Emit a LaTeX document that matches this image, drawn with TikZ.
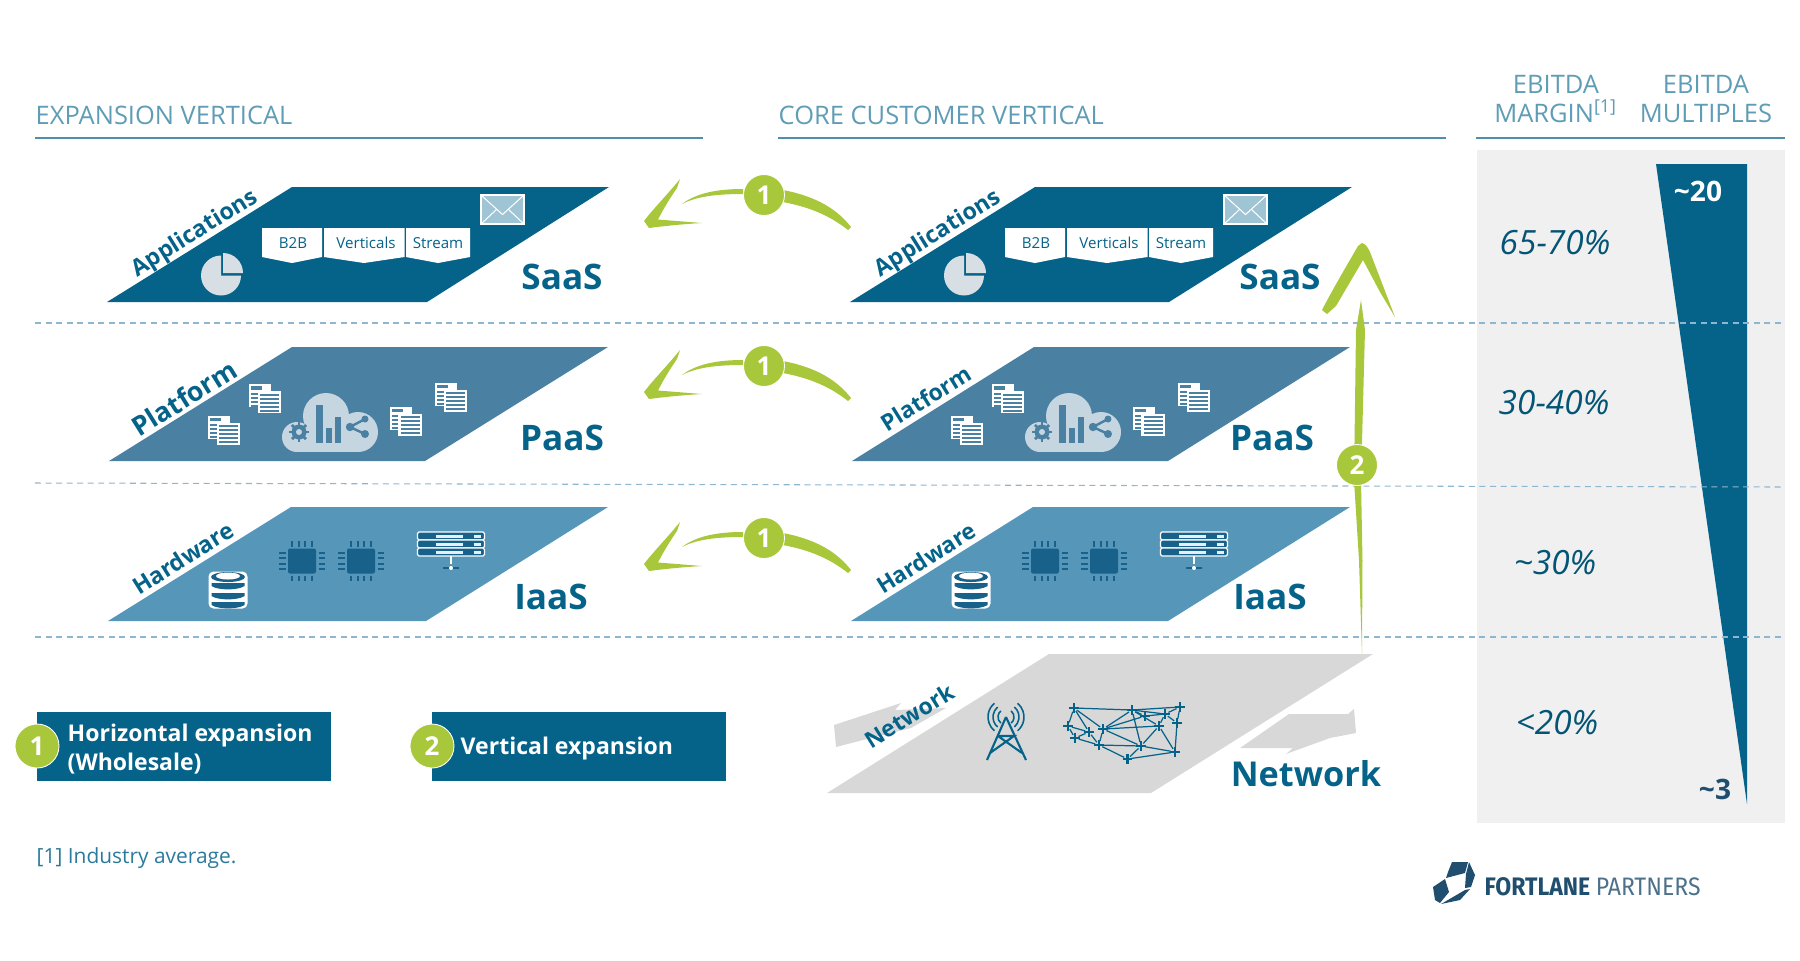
\documentclass[tikz,border=0pt]{standalone}
\usepackage{fontspec}
\setmainfont{Open Sans}
\newfontfamily\logofont[FakeStretch=0.91]{Fira Sans}
\usetikzlibrary{shapes.misc}

\definecolor{saasblue}{HTML}{05638A}
\definecolor{paasblue}{HTML}{4A81A3}
\definecolor{iaasblue}{HTML}{5596B9}
\definecolor{headblue}{HTML}{5F9CB5}
\definecolor{ruleblue}{HTML}{4F8FA8}
\definecolor{dashblue}{HTML}{8FB6CF}
\definecolor{brushgreen}{HTML}{A8C73A}
\definecolor{panelgray}{HTML}{F0F0F1}
\definecolor{netgray}{HTML}{D8D8D8}
\definecolor{chipblue}{HTML}{17618A}
\definecolor{piegray}{HTML}{D8DFE4}
\definecolor{cloudgray}{HTML}{C6D6E1}
\definecolor{logoblue}{HTML}{1F4E6E}

\newcommand{\tildesign}{\char"7E\relax}

\tikzset{
    headtext/.style={text=headblue, font=\fontsize{7.25}{8.5}\selectfont, inner sep=0pt},
    sidetext/.style={text=saasblue, font=\bfseries\fontsize{6.6}{8}\selectfont, inner sep=0pt, rotate=32},
    typetext/.style={text=saasblue, font=\bfseries\fontsize{10}{12}\selectfont, inner sep=0pt},
    tabtext/.style={text=saasblue, font=\fontsize{4.3}{5}\selectfont, inner sep=0pt},
    margintext/.style={text=saasblue!85!black, font=\itshape\fontsize{9.5}{11}\selectfont, inner sep=0pt},
    legendtext/.style={text=white, font=\bfseries\fontsize{6.55}{8.4}\selectfont, inner sep=0pt, anchor=west, align=left},
    legendbox/.style={fill=saasblue, minimum width=2.94cm, minimum height=0.69cm, inner sep=0pt},
    numdot/.style={circle, fill=brushgreen, draw=white, line width=0.25pt, minimum size=0.41cm, inner sep=0pt,
        text=white, font=\bfseries\fontsize{7.4}{8}\selectfont},
    mapdot/.style={cross out, rotate=45, draw=saasblue, line width=0.7pt, minimum size=0.045cm, inner sep=0pt},
    mapline/.style={saasblue, line width=0.35pt},
    rowdash/.style={dashblue, line width=0.3pt, dash pattern=on 1.7pt off 1.3pt},
    pics/brusharrow/.style={code={
        \fill[brushgreen] (-0.84, -0.16) .. controls (-0.97, 0) and (-1.10, 0.13) .. (-1.20, 0.26) -- (-1.15, 0.33)
            .. controls (-1.00, 0.31) and (-0.80, 0.29) .. (-0.62, 0.28) -- (-1.06, 0.245)
            .. controls (-1.00, 0.13) and (-0.94, 0.03) .. (-0.87, -0.07) -- cycle;
        \fill[brushgreen] (-0.21, -0.06) .. controls (-0.40, -0.06) and (-0.65, -0.04) .. (-0.82, 0.09)
            .. controls (-0.65, 0) and (-0.40, -0.01) .. (-0.21, -0.01) -- cycle;
        \fill[brushgreen] (0.19, -0.05) .. controls (0.45, 0) and (0.70, 0.10) .. (0.87, 0.32) -- (0.84, 0.35)
            .. controls (0.65, 0.20) and (0.45, 0.12) .. (0.19, 0.07) -- cycle;
    }},
    pics/mailicon/.style={code={
        \fill[headblue!60!white] (-0.215, -0.145) rectangle (0.215, 0.145);
        \draw[white, line width=0.3pt] (-0.215, -0.145) rectangle (0.215, 0.145);
        \draw[white, line width=0.3pt] (-0.215, -0.145) -- (0, 0.05) -- (0.215, -0.145);
        \draw[white, line width=0.3pt] (-0.215, 0.145) -- (-0.06, 0) (0.215, 0.145) -- (0.06, 0);
    }},
    pics/pieicon/.style={code={
        \fill[piegray] (-0.01, 0.015) -- ++(0, -0.20) arc[start angle=-90, end angle=-360, radius=0.20] -- cycle;
        \fill[piegray] (0.01, -0.01) -- ++(0, -0.20) arc[start angle=-90, end angle=0, radius=0.20] -- cycle;
    }},
    pics/docicon/.style={code={
        \fill[white] (-0.16, -0.145) rectangle (0.06, 0.085);
        \foreach \yy in {-0.06, -0.02, 0.02, 0.06} {
            \fill[paasblue] (-0.14, \yy) rectangle (0.04, \yy + 0.02);
        }
        \fill[paasblue] (-0.14, -0.125) rectangle (-0.03, -0.09);
        \fill[white] (-0.075, -0.075) rectangle (0.16, 0.145);
        \foreach \yy in {-0.05, -0.01, 0.03, 0.07, 0.11} {
            \fill[paasblue] (-0.05, \yy) rectangle (0.14, \yy + 0.022);
        }
    }},
    pics/cloudicon/.style={code={
        \fill[cloudgray] (-0.33, 0.12) circle (0.15);
        \fill[cloudgray] (-0.04, -0.09) circle (0.23);
        \fill[cloudgray] (0.28, 0.07) circle (0.20);
        \fill[cloudgray] (-0.33, 0.02) rectangle (0.28, 0.27);
        \fill[paasblue] (-0.14, -0.20) rectangle (-0.073, 0.18);
        \fill[paasblue] (-0.043, 0.03) rectangle (0.023, 0.18);
        \fill[paasblue] (0.05, -0.08) rectangle (0.11, 0.18);
        \foreach \ang in {0, 45, ..., 315} {
            \draw[paasblue, line width=0.8pt] (-0.31, 0.07) -- ++(\ang:0.10);
        }
        \fill[paasblue] (-0.31, 0.07) circle (0.075);
        \fill[cloudgray] (-0.31, 0.07) circle (0.03);
        \draw[paasblue, line width=0.7pt] (0.35, -0.06) -- (0.20, 0.02) -- (0.35, 0.09);
        \fill[paasblue] (0.20, 0.02) circle (0.042);
        \fill[paasblue] (0.35, -0.06) circle (0.035);
        \fill[paasblue] (0.35, 0.09) circle (0.04);
    }},
    pics/chipicon/.style={code={
        \fill[chipblue, rounded corners=0.02cm] (-0.14, -0.125) rectangle (0.14, 0.125);
        \foreach \pp in {-0.097, -0.032, 0.032, 0.097} {
            \draw[chipblue, line width=0.5pt] (\pp, -0.20) -- (\pp, -0.145);
            \draw[chipblue, line width=0.5pt] (\pp, 0.145) -- (\pp, 0.20);
        }
        \foreach \pp in {-0.08, -0.027, 0.027, 0.08} {
            \draw[chipblue, line width=0.5pt] (-0.23, \pp) -- (-0.165, \pp);
            \draw[chipblue, line width=0.5pt] (0.165, \pp) -- (0.23, \pp);
        }
    }},
    pics/servericon/.style={code={
        \foreach \yy in {-0.12, -0.04, 0.04} {
            \draw[white, fill=chipblue, line width=0.35pt, rounded corners=0.015cm] (-0.335, \yy) rectangle (0.335, \yy + 0.08);
            \fill[white!85!iaasblue] (-0.15, \yy + 0.025) rectangle (0.12, \yy + 0.055);
            \fill[white!85!iaasblue] (0.23, \yy + 0.025) rectangle (0.30, \yy + 0.055);
        }
        \draw[white, line width=0.35pt] (0, 0.12) -- (0, 0.20);
        \draw[chipblue, line width=0.8pt] (-0.08, 0.24) -- (0.08, 0.24);
        \fill[white] (0, 0.24) circle (0.02);
    }},
    pics/dbicon/.style={code={
        \fill[white, rounded corners=0.05cm] (-0.195, -0.185) rectangle (0.195, 0.185);
        \foreach \yy in {-0.07, 0.03, 0.12} {
            \fill[chipblue] (-0.165, \yy) -- (0.165, \yy) -- (0.165, \yy + 0.03)
                .. controls (0.10, \yy + 0.075) and (-0.10, \yy + 0.075) .. (-0.165, \yy + 0.03) -- cycle;
        }
        \fill[chipblue] (0, -0.13) ellipse (0.17 and 0.05);
        \fill[white] (0, -0.14) ellipse (0.12 and 0.035);
    }},
}

\begin{document}
\begin{tikzpicture}[y=-1cm]
    \useasboundingbox (0, 0) rectangle (18, 9.6);

    \fill[panelgray] (14.77, 1.50) rectangle (17.85, 8.23);
    \fill[saasblue] (16.56, 1.64) -- (17.47, 1.64) -- (17.47, 8.04) -- cycle;

    \draw[rowdash] (0.35, 3.23) -- (17.85, 3.23);
    \draw[rowdash] (0.35, 4.83) -- (17.85, 4.87);
    \draw[rowdash] (0.35, 6.37) -- (17.85, 6.37);

    \node[headtext, anchor=west] (headexp) at (0.35, 1.15) {EXPANSION VERTICAL};
    \node[headtext, anchor=west] (headcore) at (7.78, 1.15) {CORE CUSTOMER VERTICAL};
    \node[headtext, align=center] (headmargin) at (15.56, 0.99) {EBITDA\\MARGIN\textsuperscript{[1]}};
    \node[headtext, align=center] (headmult) at (17.06, 0.99) {EBITDA\\MULTIPLES};
    \draw[ruleblue, line width=0.35pt] (0.35, 1.38) -- (7.03, 1.38);
    \draw[ruleblue, line width=0.35pt] (7.78, 1.38) -- (14.46, 1.38);
    \draw[ruleblue, line width=0.35pt] (14.76, 1.38) -- (17.85, 1.38);

    \fill[saasblue] (2.92, 1.87) -- (6.09, 1.87) -- (4.27, 3.02) -- (1.07, 3.02) -- cycle;
    \fill[paasblue] (2.92, 3.47) -- (6.08, 3.47) -- (4.25, 4.61) -- (1.09, 4.61) -- cycle;
    \fill[iaasblue] (2.91, 5.07) -- (6.08, 5.07) -- (4.26, 6.21) -- (1.08, 6.21) -- cycle;
    \fill[saasblue] (10.35, 1.87) -- (13.52, 1.87) -- (11.69, 3.02) -- (8.50, 3.02) -- cycle;
    \fill[paasblue] (10.34, 3.47) -- (13.50, 3.47) -- (11.68, 4.61) -- (8.52, 4.61) -- cycle;
    \fill[iaasblue] (10.33, 5.07) -- (13.50, 5.07) -- (11.68, 6.21) -- (8.51, 6.21) -- cycle;
    \fill[netgray] (10.49, 6.54) -- (13.73, 6.54) -- (11.51, 7.93) -- (8.27, 7.93) -- cycle;
    \fill[netgray] (8.34, 7.25) -- (9.01, 7.03) -- (8.95, 7.10) -- (9.46, 7.08) -- (9.11, 7.28) -- (8.63, 7.40) -- (8.36, 7.47) -- cycle;
    \fill[netgray] (12.40, 7.48) -- (12.89, 7.14) -- (13.48, 7.14) -- (13.54, 7.09) -- (13.56, 7.33) -- (13.30, 7.38) -- (12.86, 7.54) -- (12.93, 7.48) -- cycle;

    \foreach \col/\dx in {l/0, r/7.43} {
        \begin{scope}[xshift=\dx cm]
            \fill[white] (2.62, 2.28) -- (3.22, 2.28) -- (3.22, 2.57) -- (2.92, 2.63) -- (2.62, 2.57) -- cycle;
            \fill[white] (3.24, 2.28) -- (4.045, 2.28) -- (4.045, 2.57) -- (3.64, 2.63) -- (3.24, 2.57) -- cycle;
            \fill[white] (4.06, 2.28) -- (4.70, 2.28) -- (4.70, 2.57) -- (4.38, 2.63) -- (4.06, 2.57) -- cycle;
            \node[tabtext] (tabb\col) at (2.93, 2.43) {B2B};
            \node[tabtext] (tabv\col) at (3.66, 2.43) {Verticals};
            \node[tabtext] (tabs\col) at (4.38, 2.43) {Stream};
            \pic at (5.025, 2.095) {mailicon};
            \pic at (2.22, 2.74) {pieicon};
            \pic at (2.65, 3.985) {docicon};
            \pic at (2.24, 4.30) {docicon};
            \pic at (4.055, 4.21) {docicon};
            \pic at (4.51, 3.97) {docicon};
            \pic at (3.30, 4.25) {cloudicon};
            \pic at (3.02, 5.61) {chipicon};
            \pic at (3.61, 5.61) {chipicon};
            \pic at (4.51, 5.44) {servericon};
            \pic at (2.28, 5.90) {dbicon};
        \end{scope}
    }

    \node[sidetext] (sideappl) at (1.95, 2.34) {Applications};
    \node[sidetext, font=\bfseries\fontsize{7.6}{9}\selectfont] (sideplatl) at (1.84, 3.98) {Platform};
    \node[sidetext] (sidehardl) at (1.83, 5.58) {Hardware};
    \node[sidetext] (sideappr) at (9.38, 2.34) {Applications};
    \node[sidetext, font=\bfseries\fontsize{6.5}{8}\selectfont] (sideplatr) at (9.26, 3.98) {Platform};
    \node[sidetext, font=\bfseries\fontsize{6.45}{8}\selectfont] (sidehardr) at (9.26, 5.58) {Hardware};
    \node[sidetext, font=\bfseries\fontsize{6.5}{8}\selectfont] (sidenet) at (9.09, 7.16) {Network};

    \node[typetext] (saasl) at (5.62, 2.77) {SaaS};
    \node[typetext] (paasl) at (5.62, 4.38) {PaaS};
    \node[typetext] (iaasl) at (5.51, 5.97) {IaaS};
    \node[typetext] (saasr) at (12.80, 2.77) {SaaS};
    \node[typetext] (paasr) at (12.72, 4.38) {PaaS};
    \node[typetext] (iaasr) at (12.70, 5.97) {IaaS};
    \node[typetext, font=\bfseries\fontsize{9.75}{12}\selectfont] (netr) at (13.06, 7.74) {Network};

    \foreach \row/\yy in {a/1.95, b/3.66, c/5.38} {
        \pic at (7.64, \yy) {brusharrow};
        \node[numdot] (dot\row) at (7.64, \yy) {1};
    }

    \fill[brushgreen] (13.61, 3.00) -- (13.65, 3.30) -- (13.61, 4.80) -- (13.625, 5.60) -- (13.62, 6.54)
        -- (13.59, 5.60) -- (13.54, 4.80) -- (13.56, 3.30) -- cycle;
    \fill[brushgreen] (13.62, 2.43) .. controls (13.66, 2.44) and (13.68, 2.48) .. (13.70, 2.52) -- (13.95, 3.17) -- (13.80, 2.92)
        -- (13.63, 2.60) -- (13.36, 3.06) -- (13.27, 3.14) -- (13.22, 3.10) .. controls (13.35, 2.85) and (13.50, 2.60) .. (13.58, 2.46) -- cycle;
    \node[numdot] (dotv) at (13.57, 4.65) {2};

    \draw[saasblue, line width=0.6pt] (10.06, 7.17) -- (9.87, 7.60) (10.06, 7.17) -- (10.26, 7.60);
    \draw[saasblue, line width=0.6pt] (9.98, 7.36) -- (10.14, 7.36) -- (9.90, 7.53) (9.98, 7.36) -- (10.22, 7.53);
    \foreach \rad in {0.08, 0.13, 0.18} {
        \draw[saasblue, line width=0.45pt] (10.06, 7.17) ++(-50:\rad) arc[start angle=-50, end angle=50, radius=\rad];
        \draw[saasblue, line width=0.45pt] (10.06, 7.17) ++(130:\rad) arc[start angle=130, end angle=230, radius=\rad];
    }

    \foreach \name/\xx/\yy in {ma/10.74/7.08, mb/11.32/7.10, mc/11.80/7.07, md/11.45/7.16, me/11.65/7.14,
        mf/10.68/7.26, mg/10.89/7.32, mh/11.03/7.29, mi/11.59/7.26, mj/11.77/7.23,
        mk/10.75/7.38, ml/10.99/7.45, mm/11.41/7.46, mn/11.75/7.52, mo/11.275/7.59} {
        \node[mapdot] (\name) at (\xx, \yy) {};
    }
    \foreach \aa/\bb in {ma/mb, mb/mc, ma/mf, ma/mg, ma/mh, mf/mg, mf/mk, mg/mk, mg/ml, mk/ml, mh/ml, mh/mb,
        mh/mi, mh/md, mb/mi, mb/md, md/me, me/mc, me/mj, mc/mj, mi/mn, mi/mm, mj/mn, mh/mm, ml/mm, ml/mo,
        mm/mo, mm/mn, mn/mo, mb/mm, me/mi, mb/me} {
        \draw[mapline] (\aa) -- (\bb);
    }

    \node[margintext] (m65) at (15.55, 2.43) {65-70\%};
    \node[margintext] (m30) at (15.54, 4.03) {30-40\%};
    \node[margintext] (m29) at (15.55, 5.63) {\tildesign30\%};
    \node[margintext] (m20) at (15.57, 7.23) {<20\%};
    \node[text=white, font=\bfseries\fontsize{8}{10}\selectfont, inner sep=0pt] (mult20) at (16.98, 1.91) {\tildesign20};
    \node[text=logoblue, font=\bfseries\fontsize{8}{10}\selectfont, inner sep=0pt] (mult3) at (17.15, 7.89) {\tildesign3};

    \node[legendbox] (legone) at (1.84, 7.465) {};
    \node[legendbox] (legtwo) at (5.79, 7.465) {};
    \node[numdot, minimum size=0.44cm] (dotone) at (0.37, 7.46) {1};
    \node[numdot, minimum size=0.44cm] (dottwo) at (4.32, 7.46) {2};
    \node[legendtext] (legonetext) at (0.67, 7.49) {Horizontal expansion\\(Wholesale)};
    \node[legendtext] (legtwotext) at (4.60, 7.49) {Vertical expansion};

    \node[anchor=west, inner sep=0pt, text=saasblue!85!white, font=\fontsize{5.95}{8}\selectfont] (foot) at (0.36, 8.58) {[1] Industry average.};

    \fill[logoblue] (14.52, 8.62) -- (14.68, 8.62) -- (14.65, 8.73) -- (14.46, 8.78) -- (14.48, 8.72) -- cycle;
    \fill[logoblue] (14.69, 8.62) -- (14.75, 8.75) -- (14.71, 8.87) -- (14.65, 8.88) -- (14.66, 8.74) -- cycle;
    \fill[logoblue] (14.33, 8.87) -- (14.45, 8.79) -- (14.49, 8.92) -- (14.40, 9.03) -- (14.35, 9.00) -- cycle;
    \fill[logoblue] (14.41, 9.04) -- (14.65, 8.90) -- (14.70, 8.89) -- (14.60, 9.00) -- cycle;
    \node[anchor=west, inner sep=0pt, text=logoblue, font=\logofont\fontsize{7.2}{8}\selectfont] (logoname) at (14.84, 8.87) {\bfseries FORTLANE \mdseries\color{logoblue!80!white}PARTNERS};
\end{tikzpicture}
\end{document}
